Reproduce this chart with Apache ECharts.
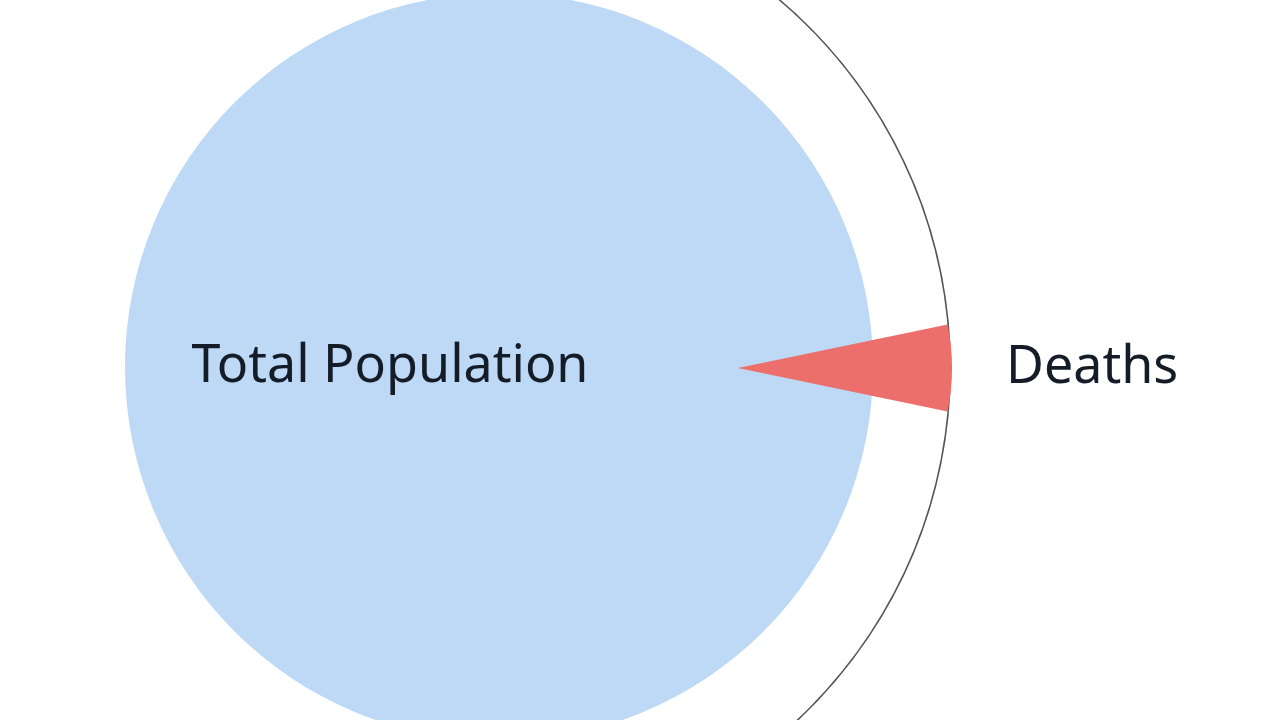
<!DOCTYPE html>
<html>
<head>
<meta charset="utf-8">
<script src="https://cdn.jsdelivr.net/npm/echarts@6/dist/echarts.min.js"></script>
<style>
html,body{margin:0;padding:0;background:#fff;}
#chart{width:1280px;height:720px;}
</style>
</head>
<body>
<div id="chart"></div>
<script>
// Data
const sliceNames = ['Total Population', 'Deaths'];
const populationValue = [100];          // full circle
const deathsValue = [6.5];              // share of wedge pie (percent)
const wedgeRemainder = [93.5];          // invisible remainder of wedge pie

const chart = echarts.init(document.getElementById('chart'), null, {renderer: 'canvas'});
const FONT = '"Noto Sans", "DejaVu Sans", sans-serif';

const option = {
  backgroundColor: '#ffffff',
  animation: false,
  series: [
    {
      // outer thin arc on the right side
      type: 'gauge',
      silent: true,
      center: [468, 368],
      radius: 483,
      startAngle: 56,
      endAngle: -56,
      min: 0,
      max: 100,
      axisLine: {lineStyle: {width: 1.6, color: [[1, '#555555']]}},
      axisTick: {show: false},
      splitLine: {show: false},
      axisLabel: {show: false},
      pointer: {show: false},
      anchor: {show: false},
      title: {show: false},
      detail: {show: false},
      progress: {show: false},
      data: [],
      z: 1
    },
    {
      type: 'pie',
      silent: true,
      center: [499, 367],
      radius: 374,
      startAngle: 0,
      itemStyle: {color: '#bdd9f5', borderWidth: 0},
      label: {
        show: true,
        position: 'center',
        formatter: '{b}',
        fontFamily: FONT,
        fontSize: 52,
        lineHeight: 52,
        verticalAlign: 'top',
        color: '#141c28',
        padding: [-21, 218, 0, 0]
      },
      labelLine: {show: false},
      emphasis: {disabled: true},
      data: [{name: sliceNames[0], value: populationValue[0]}],
      z: 2
    },
    {
      type: 'pie',
      silent: true,
      center: [738, 368],
      radius: 214,
      startAngle: 360 * deathsValue[0] / (deathsValue[0] + wedgeRemainder[0]) / 2,
      clockwise: true,
      avoidLabelOverlap: false,
      itemStyle: {borderWidth: 0},
      label: {
        show: true,
        position: 'outside',
        formatter: '{b}',
        fontFamily: FONT,
        fontSize: 52,
        lineHeight: 52,
        verticalAlign: 'top',
        color: '#141c28',
        padding: [-21, 0, 0, 0]
      },
      labelLine: {show: false, length: 30, length2: 19},
      emphasis: {disabled: true},
      data: [
        {name: sliceNames[1], value: deathsValue[0], itemStyle: {color: '#ec6f6c'}},
        {name: '', value: wedgeRemainder[0], itemStyle: {color: 'rgba(0,0,0,0)'}, label: {show: false}}
      ],
      z: 3
    }
  ]
};
chart.setOption(option);
</script>
</body>
</html>
